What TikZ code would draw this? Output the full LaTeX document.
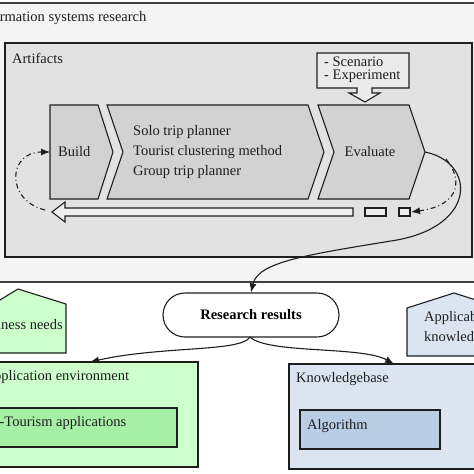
\documentclass[tikz,border=0pt]{standalone}
\usepackage{fontspec}
\setmainfont{Liberation Serif}
\usetikzlibrary{arrows.meta}
\definecolor{outerfill}{HTML}{F4F4F4}
\definecolor{artfill}{HTML}{E2E2E2}
\definecolor{chevfill}{HTML}{D2D2D2}
\definecolor{greenfill}{HTML}{CCFFCC}
\definecolor{greeninner}{HTML}{A6F0A6}
\definecolor{bluefill}{HTML}{DBE5F1}
\definecolor{blueinner}{HTML}{B9CDE5}
\definecolor{linecol}{HTML}{1E1E1E}
\tikzset{
  shp/.style={draw=linecol, line width=1.1pt, line join=miter},
  txt/.style={inner sep=0pt, font=\fontsize{14.5}{17}\selectfont, text=linecol},
  dashdot/.style={draw=linecol, line width=1.1pt, dash pattern=on 5pt off 3pt on 1pt off 3pt},
  conn/.style={draw=linecol, line width=1.1pt, -{Latex[length=9pt,width=7pt]}},
}
\begin{document}
\begin{tikzpicture}[x=1pt,y=-1pt]
\useasboundingbox (0,0) rectangle (474,474);
\begin{scope}
\clip (0,0) rectangle (474,474);
% outer frame
\draw[shp, fill=outerfill, draw=linecol!85, line width=1.6pt] (-10,3) rectangle (490,282);
\node[txt, anchor=west] (isr) at (-24.5,18) {Information systems research};
% artifacts
\draw[shp, fill=artfill] (5,43) rectangle (472,257);
\node[txt, anchor=west] (art) at (12,58) {Artifacts};
% scenario callout
\draw[shp, fill=artfill!70!white] (317,53) -- (409,53) -- (409,88) -- (372,88) -- (372,93) -- (380,93) -- (365,102) -- (349,93) -- (357,93) -- (357,88) -- (317,88) -- cycle;
\node[txt, anchor=west, align=left, font=\fontsize{14.5}{13}\selectfont] (scen) at (324,69.5) {- Scenario\\- Experiment};
% chevrons
\draw[shp, fill=chevfill] (50,105) -- (98,105) -- (113,152) -- (98,199) -- (50,199) -- cycle;
\draw[shp, fill=chevfill] (107,105) -- (308,105) -- (324,152) -- (308,199) -- (107,199) -- (123,152) -- cycle;
\draw[shp, fill=chevfill] (318,105) -- (409,105) -- (425,152) -- (409,199) -- (318,199) -- (334,152) -- cycle;
\node[txt, anchor=west] (build) at (58,152) {Build};
\node[txt, anchor=west] (solo) at (133,132.5) {Solo trip planner};
\node[txt, anchor=west] (tour) at (133,152) {Tourist clustering method};
\node[txt, anchor=west] (group) at (133,172.5) {Group trip planner};
\node[txt] (eval) at (370,152) {Evaluate};
\coordinate (buildin) at (50,152);
\coordinate (evaltip) at (425,152);
% return arrow
\draw[shp, fill=artfill!60!white] (353,208) -- (65,208) -- (65,202) -- (52,212) -- (65,222) -- (65,216) -- (353,216) -- cycle;
\draw[shp, fill=artfill!60!white] (365,208) rectangle (386,216);
\draw[shp, fill=artfill!60!white] (399,208) rectangle (410,216);
\coordinate (retstart) at (45,210);
\coordinate (sq) at (411,212);
\coordinate (rdd) at (446,159);
% dash-dot arrows
\draw[dashdot, -{Latex[length=9pt,width=7pt]}] (retstart) .. controls (5,200) and (8,152) .. (buildin);
\draw[dashdot, -{Latex[length=9pt,width=7pt]}] (rdd) .. controls (462,178) and (462,205) .. (sq);
\end{scope}
% research results
\node[draw=linecol, line width=1.1pt, fill=white, rounded corners=22pt, minimum width=176pt, minimum height=44pt, inner sep=0pt, font=\fontsize{14.5}{17}\selectfont\bfseries] (rr) at (251,315) {Research results};
\coordinate (bend) at (397,240);
\draw[conn] (evaltip) .. controls (475,162) and (478,225) .. (bend) .. controls (305,255) and (258,262) .. (rr.north);
\begin{scope}
\clip (0,0) rectangle (474,474);
% business needs
\draw[shp, fill=greenfill] (-10,306) -- (18,289) -- (66,304) -- (66,353) -- (-10,353) -- cycle;
\node[txt, anchor=east] (bn) at (63,325) {Business needs};
% applicable knowledge
\draw[shp, fill=bluefill] (407,308) -- (454,293) -- (501,308) -- (501,356) -- (407,356) -- cycle;
\node[txt, anchor=west, align=left, font=\fontsize{14.5}{20}\selectfont] (ak) at (424,328) {Applicable\\knowledge};
% application environment
\draw[shp, fill=greenfill] (-10,362) rectangle (198,467);
\node[txt, anchor=west] (ae) at (-16.5,377) {Application environment};
\draw[shp, fill=greeninner] (-10,408) rectangle (177,447);
\node[txt, anchor=west] (eta) at (-7,423) {e-Tourism applications};
% knowledgebase
\draw[shp, fill=bluefill] (289,364) rectangle (490,469);
\node[txt, anchor=west] (kb) at (296,379) {Knowledgebase};
\draw[shp, fill=blueinner] (300,410) rectangle (440,449);
\node[txt, anchor=west] (alg) at (307,426) {Algorithm};
\coordinate (aetop) at (90,362);
\coordinate (kbtop) at (394,364);
\end{scope}
\coordinate (rrs) at (250,337);
\draw[conn] (rrs) .. controls (242,352) and (160,346) .. (aetop);
\draw[conn] (rrs) .. controls (268,354) and (362,346) .. (kbtop);
\end{tikzpicture}
\end{document}
